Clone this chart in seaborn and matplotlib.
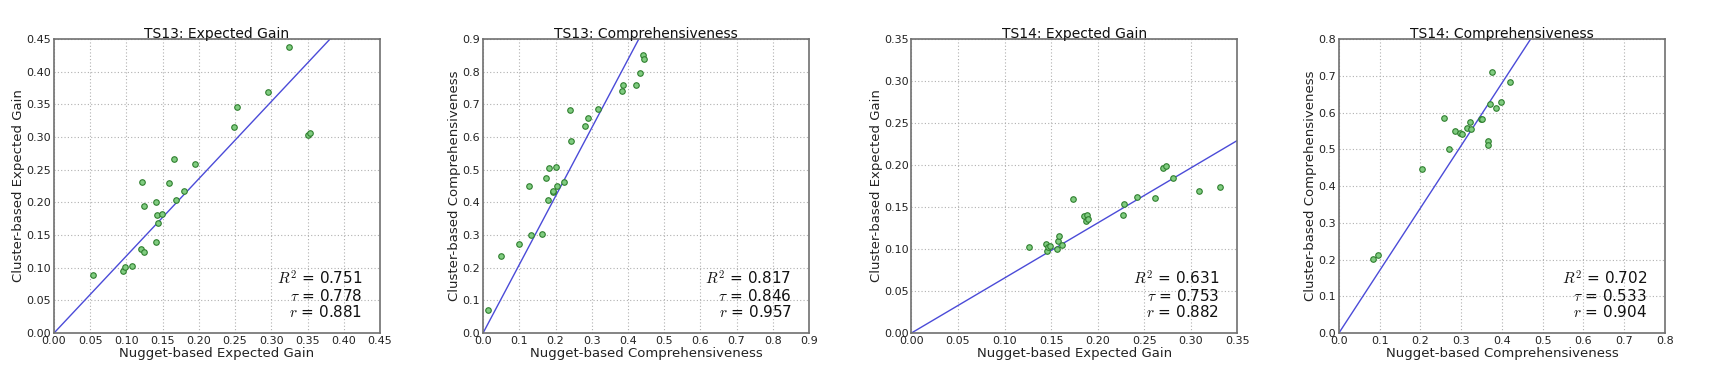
import matplotlib
matplotlib.use("Agg")
import matplotlib.pyplot as plt
import seaborn as sns
import pandas as pd

# ---------------- data ----------------
titles = ["TS13: Expected Gain", "TS13: Comprehensiveness",
          "TS14: Expected Gain", "TS14: Comprehensiveness"]
xlabels = ["Nugget-based Expected Gain", "Nugget-based Comprehensiveness",
           "Nugget-based Expected Gain", "Nugget-based Comprehensiveness"]
ylabels = ["Cluster-based Expected Gain", "Cluster-based Comprehensiveness",
           "Cluster-based Expected Gain", "Cluster-based Comprehensiveness"]
axis_max = [0.45, 0.9, 0.35, 0.8]
tick_step = [0.05, 0.1, 0.05, 0.1]
tick_fmt = ["{:.2f}", "{:.1f}", "{:.2f}", "{:.1f}"]
fit_slope = [1.181, 2.093, 0.655, 1.70]
r2_vals = ["0.751", "0.817", "0.631", "0.702"]
tau_vals = ["0.778", "0.846", "0.753", "0.533"]
r_vals = ["0.881", "0.957", "0.882", "0.904"]

ts13_eg_x = [0.054, 0.095, 0.098, 0.108, 0.120, 0.124, 0.121, 0.124, 0.141, 0.141,
             0.142, 0.149, 0.144, 0.159, 0.166, 0.168, 0.179, 0.195, 0.248, 0.253,
             0.295, 0.324, 0.351, 0.354]
ts13_eg_y = [0.089, 0.095, 0.101, 0.103, 0.129, 0.124, 0.231, 0.195, 0.140, 0.201,
             0.181, 0.182, 0.169, 0.229, 0.266, 0.203, 0.218, 0.258, 0.316, 0.346,
             0.369, 0.438, 0.303, 0.306]

ts13_co_x = [0.013, 0.050, 0.099, 0.127, 0.131, 0.163, 0.174, 0.180, 0.182, 0.192,
             0.194, 0.201, 0.204, 0.223, 0.241, 0.244, 0.281, 0.291, 0.317, 0.383,
             0.386, 0.423, 0.433, 0.441, 0.445]
ts13_co_y = [0.071, 0.237, 0.271, 0.451, 0.299, 0.303, 0.474, 0.406, 0.504, 0.431,
             0.434, 0.509, 0.449, 0.461, 0.684, 0.589, 0.635, 0.659, 0.685, 0.742,
             0.759, 0.759, 0.796, 0.851, 0.839]

ts14_eg_x = [0.126, 0.144, 0.146, 0.147, 0.149, 0.156, 0.157, 0.158, 0.162, 0.174,
             0.185, 0.187, 0.189, 0.190, 0.227, 0.228, 0.242, 0.262, 0.270, 0.273,
             0.281, 0.309, 0.331]
ts14_eg_y = [0.103, 0.106, 0.098, 0.102, 0.104, 0.100, 0.109, 0.116, 0.105, 0.160,
             0.139, 0.133, 0.141, 0.136, 0.141, 0.154, 0.162, 0.161, 0.197, 0.199,
             0.185, 0.169, 0.174]

ts14_co_x = [0.083, 0.095, 0.205, 0.257, 0.271, 0.284, 0.297, 0.302, 0.315, 0.322,
             0.325, 0.348, 0.351, 0.367, 0.367, 0.371, 0.375, 0.385, 0.399, 0.419]
ts14_co_y = [0.202, 0.212, 0.447, 0.586, 0.500, 0.551, 0.543, 0.541, 0.558, 0.574,
             0.556, 0.583, 0.583, 0.523, 0.513, 0.623, 0.709, 0.613, 0.629, 0.684]

series = [(ts13_eg_x, ts13_eg_y), (ts13_co_x, ts13_co_y),
          (ts14_eg_x, ts14_eg_y), (ts14_co_x, ts14_co_y)]

# ---------------- style ----------------
sns.set_style("whitegrid")
plt.rcParams["font.family"] = ["DejaVu Sans"]
plt.rcParams["mathtext.fontset"] = "cm"

fig = plt.figure(figsize=(17.1, 3.74), dpi=100)
lefts = [0.0316, 0.2825, 0.533, 0.783]
bottom, width, height = 0.1096, 0.1906, 0.786

for i in range(4):
    ax = fig.add_axes([lefts[i], bottom, width, height])
    xs, ys = series[i]
    df = pd.DataFrame({"x": xs, "y": ys})
    sns.scatterplot(data=df, x="x", y="y", ax=ax, s=16, color="#80cc80",
                    edgecolor="#2f7f2f", linewidth=0.8, zorder=3)
    ax.axline((0, 0), slope=fit_slope[i], color="#4b4bd8", linewidth=1.0, zorder=2)
    m = axis_max[i]
    ax.set_xlim(0, m)
    ax.set_ylim(0, m)
    n = int(round(m / tick_step[i]))
    ticks = [k * tick_step[i] for k in range(n + 1)]
    ax.set_xticks(ticks)
    ax.set_yticks(ticks)
    ax.set_xticklabels([tick_fmt[i].format(t) for t in ticks])
    ax.set_yticklabels([tick_fmt[i].format(t) for t in ticks])
    ax.tick_params(axis="both", labelsize=8, length=0, pad=2, colors="#222222")
    ax.grid(True, color="#b0b0b0", linestyle=(0, (1, 2)), linewidth=0.8)
    for sp in ax.spines.values():
        sp.set_color("#707070")
        sp.set_linewidth(1.2)
    ax.set_title(titles[i], fontsize=10, pad=1, color="#111111")
    ax.set_xlabel(xlabels[i], fontsize=9.5, labelpad=1, color="#222222")
    ax.set_ylabel(ylabels[i], fontsize=9.5, labelpad=1, color="#222222")
    txt = ("$R^2$ = " + r2_vals[i] + "\n" +
           r"$\tau$ = " + tau_vals[i] + "\n" +
           "$r$ = " + r_vals[i])
    ax.text(0.945, 0.045, txt, transform=ax.transAxes, ha="right", va="bottom",
            fontsize=11, linespacing=1.0, color="#111111", multialignment="right")

fig.savefig("out.png", dpi=100)
